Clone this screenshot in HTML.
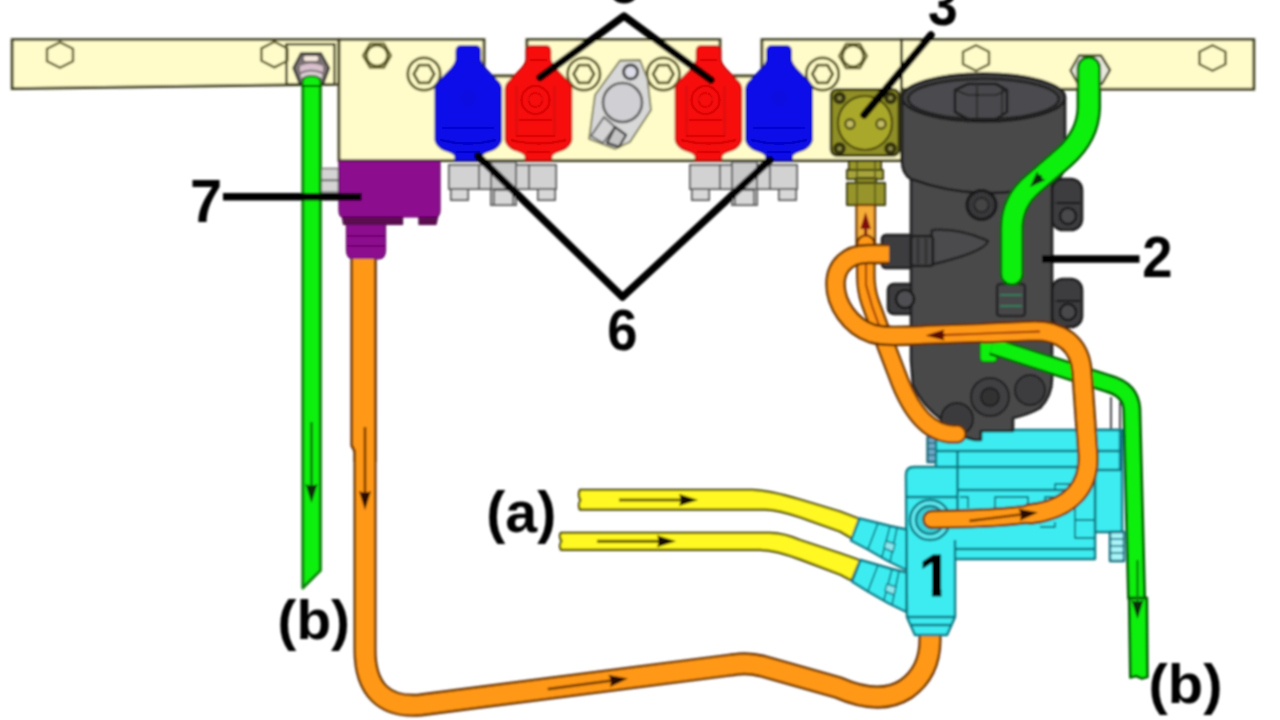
<!DOCTYPE html>
<html lang="en">
<head>
<meta charset="utf-8">
<title>Hydraulic diagram</title>
<style>
html,body{margin:0;padding:0;background:#fff;}
body{width:1280px;height:720px;overflow:hidden;position:relative;font-family:"Liberation Sans",sans-serif;}
svg{display:block;position:absolute;left:0;top:0;}
</style>
</head>
<body>
<svg width="1280" height="720" viewBox="0 0 1280 720">
<defs><filter id="soft" x="-20" y="-20" width="1320" height="760" filterUnits="userSpaceOnUse"><feGaussianBlur stdDeviation="0.8"/></filter></defs>
<rect width="1280" height="720" fill="#ffffff"/>
<g id="art" filter="url(#soft)">
<g stroke="#3e3e1c" stroke-width="2.8" fill="#FFFCCA" stroke-linejoin="miter">
<path d="M12.2,39.6 H339 V84.2 L12.2,88.6 Z"/>
<path d="M339,39.6 H484 V76 H527 V39.6 H720 V76 H762 V39.6 H901.5 V160.6 H339 Z"/>
<rect x="901.5" y="39.6" width="352.3" height="49.6"/>
<rect x="286.5" y="44.2" width="48" height="40" stroke-width="2.4"/>
</g>
<g stroke="#5a5420" stroke-width="2.4" fill="none" stroke-linejoin="round">
<polygon points="60,42.2 73,48.8 73,61.2 60,67.8 47,61.2 47,48.8"/>
<polygon points="274.4,41.8 287.4,48.4 287.4,60.800000000000004 274.4,67.4 261.4,60.800000000000004 261.4,48.4"/>
<polygon points="976,45.2 989,51.8 989,64.2 976,70.8 963,64.2 963,51.8"/>
<polygon points="1212.5,45.2 1225.5,51.8 1225.5,64.2 1212.5,70.8 1199.5,64.2 1199.5,51.8"/>
</g>
<g stroke="#58541e" stroke-width="2" fill="none">
<polygon points="391.0,55.6 384.0,67.7 370.0,67.7 363.0,55.6 370.0,43.5 384.0,43.5" stroke-width="2.2" stroke-linejoin="round"/>
<circle cx="377" cy="55.6" r="10.5" stroke-width="2.6"/>
<polygon points="867.0,56.0 860.0,68.1 846.0,68.1 839.0,56.0 846.0,43.9 860.0,43.9" stroke-width="2.2" stroke-linejoin="round"/>
<circle cx="853" cy="56" r="10.5" stroke-width="2.6"/>
<circle cx="424" cy="74" r="16.2" stroke-width="2.8"/>
<polygon points="434.2,74.0 429.1,82.8 418.9,82.8 413.8,74.0 418.9,65.2 429.1,65.2" stroke-width="2.8" stroke-linejoin="round"/>
<circle cx="583.8" cy="74" r="16.2" stroke-width="2.8"/>
<polygon points="594.0,74.0 588.9,82.8 578.7,82.8 573.6,74.0 578.7,65.2 588.9,65.2" stroke-width="2.8" stroke-linejoin="round"/>
<circle cx="663.3" cy="74" r="16.2" stroke-width="2.8"/>
<polygon points="673.5,74.0 668.4,82.8 658.2,82.8 653.1,74.0 658.2,65.2 668.4,65.2" stroke-width="2.8" stroke-linejoin="round"/>
<circle cx="822.5" cy="74" r="16.2" stroke-width="2.8"/>
<polygon points="832.7,74.0 827.6,82.8 817.4,82.8 812.3,74.0 817.4,65.2 827.6,65.2" stroke-width="2.8" stroke-linejoin="round"/>
</g>
<g stroke="#6c6c50" stroke-width="1.8" stroke-linejoin="round">
<path d="M620,60.5 L640,60 L647.5,79 L651,110 L630,142 L615,149 L589,139 L595,95 Z" fill="#d8d8d8" stroke="#74744a"/>
<circle cx="622.5" cy="102.5" r="19.5" fill="#d0d0d4" stroke="#5c5c5c" stroke-width="2.6"/>
<circle cx="630.6" cy="72" r="7" fill="#dcdce8" stroke="#404040" stroke-width="3"/>
<path d="M604,117 L615,127 L603,143 L591,136 Z" fill="#d4d4d4" stroke="#666" stroke-width="2"/>
<path d="M615,127 L626,135 L619,147 L607,143 Z" fill="#c4c4c4" stroke="#3c3c3c" stroke-width="2.4"/>
</g>
<g fill="#d2d2d2" stroke="#5e5e5e" stroke-width="2">
<rect x="491" y="162" width="25" height="43"/>
<rect x="494" y="190" width="19" height="15" fill="#d8d8d8"/>
<rect x="449" y="165" width="107" height="24"/>
<rect x="449" y="165" width="30" height="24"/>
<rect x="529" y="165" width="27" height="24"/>
<rect x="491" y="162" width="25" height="27" fill="#c8c8c8"/>
<rect x="451" y="189" width="17" height="11" fill="#d8d8d8"/>
<rect x="538" y="189" width="17" height="11" fill="#d8d8d8"/>
</g>
<g fill="#d2d2d2" stroke="#5e5e5e" stroke-width="2">
<rect x="732" y="162" width="25" height="43"/>
<rect x="735" y="190" width="19" height="15" fill="#d8d8d8"/>
<rect x="690" y="165" width="107" height="24"/>
<rect x="690" y="165" width="30" height="24"/>
<rect x="770" y="165" width="27" height="24"/>
<rect x="732" y="162" width="25" height="27" fill="#c8c8c8"/>
<rect x="692" y="189" width="17" height="11" fill="#d8d8d8"/>
<rect x="779" y="189" width="17" height="11" fill="#d8d8d8"/>
</g>
<path d="M456.3,51 Q456.3,46 461.3,46 H475.3 Q480.3,46 480.3,51 V60 Q481.3,64 485.3,68.5 L498.3,82 Q501.3,85 501.3,90 V140 Q500.3,146 492.3,150 Q482.3,153 481.3,156 V160.5 H455.3 V156 Q454.3,153 444.3,150 Q436.3,146 435.3,140 V90 Q435.3,85 438.3,82 L451.3,68.5 Q455.3,64 456.3,60 Z" fill="#0a0aea" stroke="#0000a0" stroke-width="1.6" stroke-linejoin="round"/>
<g fill="none" stroke="#0000b4" stroke-width="2">
<path d="M440.3,140 Q468.3,147 496.3,140"/>
<path d="M456.3,152 H480.3" stroke-width="1.5"/>
<circle cx="468.3" cy="98" r="9" stroke="none" fill="#0000b4" opacity="0.15"/>
<path d="M442.3,128 H494.3" stroke-width="2" opacity="0.6"/>
</g>
<path d="M526.5,51 Q526.5,46 531.5,46 H545.5 Q550.5,46 550.5,51 V60 Q551.5,64 555.5,68.5 L568.5,82 Q571.5,85 571.5,90 V140 Q570.5,146 562.5,150 Q552.5,153 551.5,156 V160.5 H525.5 V156 Q524.5,153 514.5,150 Q506.5,146 505.5,140 V90 Q505.5,85 508.5,82 L521.5,68.5 Q525.5,64 526.5,60 Z" fill="#f80c0c" stroke="#b80000" stroke-width="1.6" stroke-linejoin="round"/>
<g fill="none" stroke="#cc0000" stroke-width="2">
<path d="M510.5,140 Q538.5,147 566.5,140"/>
<path d="M526.5,152 H550.5" stroke-width="1.5"/>
<circle cx="535.5" cy="100" r="14"/>
<circle cx="535.5" cy="100" r="7" stroke-width="1.5"/>
<path d="M516.5,86 V136 H554.5 V86" stroke-width="1.5"/>
<path d="M518.5,120 H552.5" stroke-width="1.5"/>
<path d="M529.5,60 H547.5" stroke-width="1.5"/>
</g>
<path d="M696.5,51 Q696.5,46 701.5,46 H715.5 Q720.5,46 720.5,51 V60 Q721.5,64 725.5,68.5 L738.5,82 Q741.5,85 741.5,90 V140 Q740.5,146 732.5,150 Q722.5,153 721.5,156 V160.5 H695.5 V156 Q694.5,153 684.5,150 Q676.5,146 675.5,140 V90 Q675.5,85 678.5,82 L691.5,68.5 Q695.5,64 696.5,60 Z" fill="#f80c0c" stroke="#b80000" stroke-width="1.6" stroke-linejoin="round"/>
<g fill="none" stroke="#cc0000" stroke-width="2">
<path d="M680.5,140 Q708.5,147 736.5,140"/>
<path d="M696.5,152 H720.5" stroke-width="1.5"/>
<circle cx="705.5" cy="100" r="14"/>
<circle cx="705.5" cy="100" r="7" stroke-width="1.5"/>
<path d="M686.5,86 V136 H724.5 V86" stroke-width="1.5"/>
<path d="M688.5,120 H722.5" stroke-width="1.5"/>
<path d="M699.5,60 H717.5" stroke-width="1.5"/>
</g>
<path d="M767,51 Q767,46 772,46 H786 Q791,46 791,51 V60 Q792,64 796,68.5 L809,82 Q812,85 812,90 V140 Q811,146 803,150 Q793,153 792,156 V160.5 H766 V156 Q765,153 755,150 Q747,146 746,140 V90 Q746,85 749,82 L762,68.5 Q766,64 767,60 Z" fill="#0a0aea" stroke="#0000a0" stroke-width="1.6" stroke-linejoin="round"/>
<g fill="none" stroke="#0000b4" stroke-width="2">
<path d="M751,140 Q779,147 807,140"/>
<path d="M767,152 H791" stroke-width="1.5"/>
<circle cx="779" cy="98" r="9" stroke="none" fill="#0000b4" opacity="0.15"/>
<path d="M753,128 H805" stroke-width="2" opacity="0.6"/>
</g>
<g stroke="#34340c" stroke-width="2" stroke-linejoin="round">
<rect x="831" y="89.5" width="68" height="66" rx="6" fill="#908e26" stroke="#2a2a08" stroke-width="2.6"/>
<circle cx="865" cy="123" r="27" fill="#aaa82a" stroke="#46460e" stroke-width="2.2"/>
<circle cx="839.5" cy="98" r="5" fill="#4a4a14" stroke="#26260a" stroke-width="2.4"/>
<circle cx="839.5" cy="98" r="1.6" fill="#a8a060" stroke="none"/>
<circle cx="890.5" cy="98" r="5" fill="#4a4a14" stroke="#26260a" stroke-width="2.4"/>
<circle cx="890.5" cy="98" r="1.6" fill="#a8a060" stroke="none"/>
<circle cx="839.5" cy="148.5" r="5" fill="#4a4a14" stroke="#26260a" stroke-width="2.4"/>
<circle cx="839.5" cy="148.5" r="1.6" fill="#a8a060" stroke="none"/>
<circle cx="890.5" cy="148.5" r="5" fill="#4a4a14" stroke="#26260a" stroke-width="2.4"/>
<circle cx="890.5" cy="148.5" r="1.6" fill="#a8a060" stroke="none"/>
<circle cx="850" cy="124" r="4.6" fill="#c4bc68" stroke="#5a5a14" stroke-width="2.6"/>
<circle cx="881" cy="124" r="4.6" fill="#c4bc68" stroke="#5a5a14" stroke-width="2.6"/>
<rect x="849" y="161" width="32" height="10" fill="#9a982c"/>
<rect x="847" y="170" width="36" height="9" fill="#a6a43a"/>
<rect x="856" y="178" width="20" height="6" fill="#8a8826"/>
<rect x="847" y="183" width="38" height="22" fill="#96942a"/>
<path d="M857,162 V205 M875,162 V205" fill="none" stroke="#5a5a18" stroke-width="1.6"/>
</g>
<g fill="#8c0a8e" stroke="#5c005c" stroke-width="1.2" stroke-linejoin="round">
<rect x="321" y="168.5" width="17.5" height="11.5" fill="#d4d4d4" stroke="#6a6a6a" stroke-width="1.6"/>
<rect x="321" y="180.5" width="17.5" height="11.5" fill="#d4d4d4" stroke="#6a6a6a" stroke-width="1.6"/>
<path d="M346.5,222 H385.5 V250 Q385.5,259 378,259 H354 Q346.5,259 346.5,250 Z"/>
<path d="M342,214 H402.5 V224.5 H343.5 Z M419,215 H438 L436,224.5 H419 Z" fill="#5c0a50" stroke="#40063c"/>
<path d="M339,161 H440 V210 Q440,216 436,217 H342 Q339,216 339,210 Z"/>
<path d="M348,236 H384 M348,246 H384" fill="none" stroke="#6a0068" stroke-width="1.6"/>
</g>
<path d="M302.8,76 H320.4 V570.5 L302.8,588 Z" fill="#10f010" stroke="#0c800c" stroke-width="3" stroke-linejoin="round"/>
<g stroke="#33332a" stroke-width="2.4" stroke-linejoin="round">
<path d="M293.5,68 L301,53.5 H321 L329,68 L323,84 H300 Z" fill="#7a7274"/>
<rect x="303" y="55.5" width="16" height="6" rx="2.5" fill="#f4e6dc" stroke="#5a4a4a" stroke-width="1.2"/>
<path d="M300,66 Q311,61 323,66 V72 Q311,67 300,72 Z" fill="#d8c0cc" stroke="none"/>
<path d="M301,74 Q311,69 322,74 V78 Q311,73 301,78 Z" fill="#e0d0d8" stroke="none"/>
<path d="M302.5,86 V82 Q302.5,76 311.5,76 Q320.6,76 320.6,82 V86 Z" fill="#10f010" stroke="#056405" stroke-width="2"/>
</g>
<path d="M365,259 V650 C365,690 385,708 420,705 L735,664.5 Q748,662.5 762,666 L838,687.5 Q880,706 906,689 Q930,672 930,640 V634" fill="none" stroke="#6a3000" stroke-width="23" stroke-linecap="butt" stroke-linejoin="round" />
<path d="M365,259 V650 C365,690 385,708 420,705 L735,664.5 Q748,662.5 762,666 L838,687.5 Q880,706 906,689 Q930,672 930,640 V634" fill="none" stroke="#ff9814" stroke-width="18.2" stroke-linecap="butt" stroke-linejoin="round" />
<path d="M350.4,259 V446 L353.6,452 V462 H376.5 V259 Z" fill="#6a3000"/>
<path d="M353,259 V445 L355.9,451 V464 H374.1 V259 Z" fill="#ff9814"/>
<g fill="#fff820" stroke="#4a4600" stroke-width="2.2" stroke-linejoin="round">
<path d="M580,489.8 H752 Q768,490 800,499.5 L840,511.5 L859,518.8 L852,538.5 L840,531.5 L800,517.3 Q778,509.8 765,509.6 H580 Q577.5,505 580.5,500 Q577.5,495 580,489.8 Z"/>
<path d="M561,532.8 H770 Q784,533 800,540 L840,553.3 L860,560.3 L851.5,580.5 L840,574.5 L800,559.4 Q776,550.2 760,549.8 H561 Q558.5,546 561.5,541 Q558.5,536 561,532.8 Z"/>
</g>
<g fill="#3cecf0" stroke="#087884" stroke-width="2.4" stroke-linejoin="round">
<path d="M1111,397 V432 M1120,402 V432" fill="none" stroke="#4a4a50" stroke-width="2"/>
<rect x="1095" y="430" width="27" height="102"/>
<rect x="1110" y="436" width="10" height="24" fill="#a8f4f8" stroke="#0a7080"/>
<path d="M1110,442 H1120 M1110,448 H1120 M1110,454 H1120" fill="none" stroke="#0a7080" stroke-width="1.6"/>
<rect x="1110" y="532" width="14" height="29" fill="#a8f4f8" stroke="#0a7080"/>
<path d="M1110,539 H1124 M1110,546 H1124 M1110,553 H1124" fill="none" stroke="#0a7080" stroke-width="1.6"/>
<rect x="927.5" y="437" width="9" height="25" fill="#6fa8c8" stroke="#1a6a7a"/>
<path d="M928,443 H936 M928,449 H936 M928,455 H936" fill="none" stroke="#1a6a7a" stroke-width="1.4"/>
<rect x="936" y="430" width="184" height="40"/>
<path d="M936,451 H1120" fill="none"/>
<path d="M906,475 Q906,467 914,467 H1095 V559 H955 V617 L947,635 H915 L907,617 Z"/>
<path d="M957.5,451 V510 M957.5,490 H1075 M906,497 H957 M955,549 H1094 M955,559 V540 M908,617 H954 M911,625 H951" fill="none"/>
<path d="M960,497 H968 V508 M995,508 V497 H1028 V508 M1045,508 V497 H1060 M1055,490 V484 H1075 V520 H1095 M1040,527 H1055 V522 M1075,520 V538 H1095" fill="none" stroke-width="1.8"/>
<circle cx="930" cy="520" r="20" fill="#5eeaf0"/>
<circle cx="930" cy="520" r="14" fill="#38d0d8"/>
<path d="M859.5,518.5 L878,523 L890,526 L906.5,529.5 V570 L888,561 L868,549.5 L851,540.5 Z"/>
<path d="M860.5,560 L878,565 L892,569 L906.5,572.5 V612 L889,603.5 L868,591.5 L852,581.5 Z"/>
<path d="M878,523 L868,549 M890,526 L882,557 M897,528 L890,562 M878,565 L868,591 M892,569 L884,600 M899,571 L892,605" fill="none" stroke-width="1.6"/>
<path d="M886,541 l9,3 -2,8 -9,-4 Z M887,584 l9,3 -2,8 -9,-4 Z" fill="#8fe8ee" stroke-width="1.4"/>
</g>
<g fill="#48484a" stroke="#1c1c1c" stroke-width="2.6" stroke-linejoin="round">
<rect x="1052" y="179" width="30" height="51" rx="11" fill="#3e3e40"/>
<rect x="1052" y="279" width="30" height="48" rx="11" fill="#3e3e40"/>
<circle cx="1068" cy="216" r="8" fill="#4a4a4c" stroke="#1a1a1a"/>
<circle cx="1068" cy="312" r="8" fill="#4a4a4c" stroke="#1a1a1a"/>
<path d="M1056,203 H1080 M1056,301 H1080" fill="none" stroke="#222"/>
<rect x="882" y="235" width="48" height="33" rx="4" fill="#3e3e40"/>
<rect x="888" y="284" width="34" height="30" rx="6" fill="#3e3e40"/>
<path d="M911,170 H1052 V375 Q1053,395 1040,408 Q1030,414 1013,418 V431 H981 V440 H975 Q955,436 942,420 Q922,405 913,385 L911,360 Z"/>
<g fill="#3a3a3c" stroke="#1e1e1e" stroke-width="2">
<circle cx="957" cy="419" r="16"/>
<circle cx="990" cy="397" r="19" fill="#404042"/>
<circle cx="1030" cy="390" r="15" fill="#3e3e40"/>
<circle cx="990" cy="397" r="9" fill="#333"/>
</g>
<path d="M902,98 A81.5,24 0 0 1 1065,98 V160 Q1065,178 1052,183 Q983,205 911,179 Q902,174 902,160 Z" fill="#48484a"/>
<ellipse cx="983.5" cy="97.5" rx="81.5" ry="24" fill="#3c3c3e"/>
<ellipse cx="983.5" cy="99" rx="75" ry="20" fill="#4c4c50" stroke="#242424"/>
<path d="M955,90 L968,84 H996 L1007,90 V112 L996,119 H968 L955,112 Z" fill="#4a4a4e" stroke="#1e1e1e"/>
<path d="M977,86 V119 M1002,88 V116 M955,90 L968,95 H996 L1007,90" fill="none" stroke="#222" stroke-width="1.6"/>
<circle cx="981.5" cy="205" r="14.5" fill="#38383a" stroke="#161616" stroke-width="3"/>
<circle cx="981.5" cy="205" r="7" fill="#444" stroke="#222" stroke-width="1.6"/>
<path d="M932,230 Q960,228 988,241 Q985,252 930,265 Z" fill="#4c4c4e" stroke="#222"/>
<circle cx="905" cy="299" r="9" fill="#505052" stroke="#161616" stroke-width="2.6"/>
<rect x="911" y="236" width="22" height="30" rx="3" fill="#444446" stroke="#1e1e1e"/>
<path d="M918,238 V264 M926,238 V264" fill="none" stroke="#222" stroke-width="1.4"/>
<rect x="997" y="284" width="28" height="32" rx="3" fill="#46464a" stroke="#222"/>
<path d="M1000,295 H1022 M1000,306 H1022" fill="none" stroke="#2e7a5a" stroke-width="1.8"/>
</g>
<rect x="856.5" y="205" width="18.5" height="42" fill="#f6ac38" stroke="#6a3000" stroke-width="2.2"/>
<path d="M865.8,244 V275 C865.8,290 868,296 870,302 L887,348 L900,382 C908,402 925,436 957,434" fill="none" stroke="#6a3000" stroke-width="19.5" stroke-linecap="round" stroke-linejoin="round" />
<path d="M865.8,244 V275 C865.8,290 868,296 870,302 L887,348 L900,382 C908,402 925,436 957,434" fill="none" stroke="#ff9814" stroke-width="14.9" stroke-linecap="round" stroke-linejoin="round" />
<path d="M866,262 V285 L872,306 L880,328" fill="none" stroke="#7a1400" stroke-width="2" opacity="0.75"/>
<path d="M865.6,212 L871,229 H867.2 V236 H864 V229 H860.2 Z" fill="#800808"/>
<rect x="980" y="340" width="17" height="22" rx="4" fill="#10f010" stroke="#056405" stroke-width="1.6"/>
<path d="M992,346 L1108,383.5 Q1130.5,389.5 1131.8,409 L1136.6,599" fill="none" stroke="#056405" stroke-width="19" stroke-linecap="butt" stroke-linejoin="round" />
<path d="M992,346 L1108,383.5 Q1130.5,389.5 1131.8,409 L1136.6,599" fill="none" stroke="#10f010" stroke-width="13.4" stroke-linecap="butt" stroke-linejoin="round" />
<path d="M1129.2,598 H1146.8 L1147.4,677 L1142,678.5 L1136,676 L1130.4,677.5 Z" fill="#10f010" stroke="#056405" stroke-width="2.8" stroke-linejoin="round"/>
<path d="M1070.5,70.5 L1079,55.5 H1101 L1110,70 L1102,84 H1078 Z" fill="#e8e8dc" stroke="#3c3c14" stroke-width="2.4" stroke-linejoin="round"/>
<path d="M1088.8,68 V108 Q1088,136 1064,157 L1034,183 Q1012,201 1011.8,228 V274" fill="none" stroke="#056405" stroke-width="24.5" stroke-linecap="round" stroke-linejoin="round" />
<path d="M1088.8,68 V108 Q1088,136 1064,157 L1034,183 Q1012,201 1011.8,228 V274" fill="none" stroke="#10f010" stroke-width="19.1" stroke-linecap="round" stroke-linejoin="round" />
<path d="M985,333 L1035,330.8 C1060,331 1080,343 1082,372 L1088,455 C1089.5,488 1070,506 1040,512.5 L1030,514" fill="none" stroke="#6a3000" stroke-width="21.5" stroke-linecap="round" stroke-linejoin="round"/>
<path d="M1046,511 C1015,517.5 985,518.5 932,519.5" fill="none" stroke="#6a3000" stroke-width="19.5" stroke-linecap="round" stroke-linejoin="round"/>
<path d="M889,254 L868,254 C848,254 835.5,266 835.5,284 C835.5,304 850,326 872,333.5 C885,337 900,336 930,334.7 L1000,332.4" fill="none" stroke="#6a3000" stroke-width="20.5" stroke-linecap="butt" stroke-linejoin="round"/>
<path d="M985,333 L1035,330.8 C1060,331 1080,343 1082,372 L1088,455 C1089.5,488 1070,506 1040,512.5 L1030,514" fill="none" stroke="#ff9814" stroke-width="16.7" stroke-linecap="round" stroke-linejoin="round"/>
<path d="M1046,511 C1015,517.5 985,518.5 932,519.5" fill="none" stroke="#ff9814" stroke-width="14.7" stroke-linecap="round" stroke-linejoin="round"/>
<path d="M889,254 L868,254 C848,254 835.5,266 835.5,284 C835.5,304 850,326 872,333.5 C885,337 900,336 930,334.7 L1000,332.4 L1010,332" fill="none" stroke="#ff9814" stroke-width="15.7" stroke-linecap="butt" stroke-linejoin="round"/>
<path d="M944,335 L1040,331.5" fill="none" stroke="#7a1400" stroke-width="1.8" opacity="0.8"/>
<g transform="translate(698,500) rotate(0)"><path d="M-79,0 H-17" stroke="#6a6000" stroke-width="3.2" fill="none"/><path d="M-19,-6 L0,0 L-19,6 Q-16,0 -19,-6 Z" fill="#141000"/></g>
<g transform="translate(676,541.3) rotate(0)"><path d="M-79,0 H-17" stroke="#6a6000" stroke-width="3.2" fill="none"/><path d="M-19,-6 L0,0 L-19,6 Q-16,0 -19,-6 Z" fill="#141000"/></g>
<g transform="translate(628,678.5) rotate(-7.5)"><path d="M-81,0 H-17" stroke="#7a3a00" stroke-width="2.8" fill="none"/><path d="M-19,-6 L0,0 L-19,6 Q-16,0 -19,-6 Z" fill="#2a0c00"/></g>
<g transform="translate(365,510) rotate(90)"><path d="M-83,0 H-17" stroke="#7a3a00" stroke-width="2.6" fill="none"/><path d="M-19,-6 L0,0 L-19,6 Q-16,0 -19,-6 Z" fill="#2a0c00"/></g>
<g transform="translate(311.5,503) rotate(90)"><path d="M-81,0 H-17" stroke="#0a7a0a" stroke-width="2.6" fill="none"/><path d="M-19,-6 L0,0 L-19,6 Q-16,0 -19,-6 Z" fill="#0a2a0a"/></g>
<g transform="translate(1038,512.5) rotate(-7)"><path d="M-69,0 H-17" stroke="#7a3a00" stroke-width="2.6" fill="none"/><path d="M-19,-6 L0,0 L-19,6 Q-16,0 -19,-6 Z" fill="#2a0c00"/></g>
<g transform="translate(925.5,335.6) rotate(178.5)"><path d="M-19,0 H-17" stroke="#5a0800" stroke-width="3.2" fill="none"/><path d="M-19,-5.5 L0,0 L-19,5.5 Q-16,0 -19,-5.5 Z" fill="#5a0800"/></g>
<g transform="translate(1030,187) rotate(135)"><path d="M-16,0 H-14" stroke="#0a2a0a" stroke-width="3.2" fill="none"/><path d="M-16,-6 L0,0 L-16,6 Q-13,0 -16,-6 Z" fill="#0a2a0a"/></g>
<g transform="translate(1137.5,619) rotate(90)"><path d="M-59,0 H-17" stroke="#0a7a0a" stroke-width="2.2" fill="none"/><path d="M-19,-6 L0,0 L-19,6 Q-16,0 -19,-6 Z" fill="#0a2a0a"/></g>
<g stroke="#000" stroke-width="7.5" fill="none" stroke-linecap="round" stroke-linejoin="round">
<path d="M223,196.7 H361.5" stroke-linecap="butt"/>
<path d="M1042,259 H1139.5" stroke-linecap="butt"/>
<path d="M540,77.5 L624,16 L711,80"/>
<path d="M478,156 L622.5,297 L770,160"/>
<path d="M931,35 L864,115"/>
</g>
<defs><clipPath id="one"><path d="M-2,-80 H38.4 V3 H22.2 V-13 H-2 Z"/></clipPath></defs>
<g font-family="'Liberation Sans', sans-serif" font-weight="bold" fill="#000">
<text transform="translate(609.23,2.80) scale(0.5455,0.6007)" font-size="100px" x="0" y="0">5</text>
<text transform="translate(928.00,25.47) scale(0.5347,0.5873)" font-size="100px" x="0" y="0">3</text>
<text transform="translate(189.94,221.60) scale(0.5787,0.6080)" font-size="100px" x="0" y="0">7</text>
<text transform="translate(1142.20,276.60) scale(0.5438,0.5821)" font-size="100px" x="0" y="0">2</text>
<text transform="translate(607.36,350.02) scale(0.5430,0.5823)" font-size="100px" x="0" y="0">6</text>
<text transform="translate(918.95,595.60) scale(0.5851,0.5935)" font-size="100px" x="0" y="0" clip-path="url(#one)" stroke="#000" stroke-width="1.6">1</text>
<text transform="translate(486.24,531.61) scale(0.5728,0.5684)" font-size="100px" x="0" y="0">(a)</text>
<text transform="translate(277.57,638.56) scale(0.5665,0.5609)" font-size="100px" x="0" y="0">(b)</text>
<text transform="translate(1148.50,703.14) scale(0.5792,0.5619)" font-size="100px" x="0" y="0">(b)</text>
</g>
</g>
</svg>
</body>
</html>
